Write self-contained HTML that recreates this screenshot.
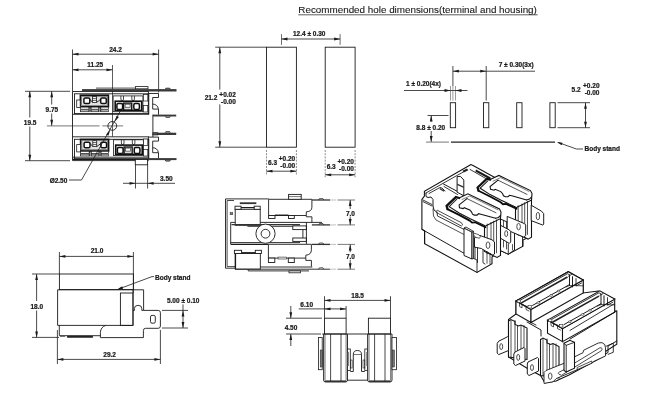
<!DOCTYPE html>
<html><head><meta charset="utf-8"><style>
html,body{margin:0;padding:0;background:#fff;}
svg{display:block;font-family:"Liberation Sans",sans-serif;}
#wrap{width:650px;height:401px;overflow:hidden;will-change:transform;}
</style></head><body>
<div id="wrap">
<svg width="650" height="401" viewBox="0 0 650 401">
<rect width="650" height="401" fill="#fff"/>
<line x1="72.5" y1="49.5" x2="72.5" y2="91.5" stroke="#2a2a2a" stroke-width="0.85" />
<line x1="158.6" y1="49.5" x2="158.6" y2="92.5" stroke="#2a2a2a" stroke-width="0.85" />
<line x1="72.5" y1="54.2" x2="158.6" y2="54.2" stroke="#2a2a2a" stroke-width="0.85" />
<polygon points="72.50,54.20 78.50,55.60 78.50,52.80" fill="#1a1a1a"/>
<polygon points="158.60,54.20 152.60,52.80 152.60,55.60" fill="#1a1a1a"/>
<text x="115.5" y="51.5" font-size="6.5" text-anchor="middle" font-weight="bold" fill="#1a1a1a" stroke="#1a1a1a" stroke-width="0.22">24.2</text>
<line x1="72.5" y1="69.8" x2="112.5" y2="69.8" stroke="#2a2a2a" stroke-width="0.85" />
<polygon points="72.50,69.80 78.50,71.20 78.50,68.40" fill="#1a1a1a"/>
<polygon points="112.50,69.80 106.50,68.40 106.50,71.20" fill="#1a1a1a"/>
<text x="95.3" y="66.9" font-size="6.5" text-anchor="middle" font-weight="bold" fill="#1a1a1a" stroke="#1a1a1a" stroke-width="0.22">11.25</text>
<line x1="112.5" y1="65" x2="112.5" y2="136.5" stroke="#333" stroke-width="0.8" />
<line x1="46.9" y1="125.9" x2="99.6" y2="125.9" stroke="#777" stroke-width="1.0" />
<line x1="102.3" y1="125.9" x2="123.1" y2="125.9" stroke="#777" stroke-width="1.0" />
<line x1="25" y1="91.3" x2="70" y2="91.3" stroke="#2a2a2a" stroke-width="0.85" />
<line x1="25" y1="160.7" x2="70" y2="160.7" stroke="#2a2a2a" stroke-width="0.85" />
<line x1="29.8" y1="91.3" x2="29.8" y2="117.5" stroke="#2a2a2a" stroke-width="0.85" />
<line x1="29.8" y1="126.5" x2="29.8" y2="160.7" stroke="#2a2a2a" stroke-width="0.85" />
<polygon points="29.80,91.30 28.40,97.30 31.20,97.30" fill="#1a1a1a"/>
<polygon points="29.80,160.70 31.20,154.70 28.40,154.70" fill="#1a1a1a"/>
<text x="30.1" y="125.2" font-size="6.5" text-anchor="middle" font-weight="bold" fill="#1a1a1a" stroke="#1a1a1a" stroke-width="0.22">19.5</text>
<line x1="51.7" y1="91.3" x2="51.7" y2="104.5" stroke="#2a2a2a" stroke-width="0.85" />
<line x1="51.7" y1="113.5" x2="51.7" y2="125.8" stroke="#2a2a2a" stroke-width="0.85" />
<polygon points="51.70,91.30 50.30,97.30 53.10,97.30" fill="#1a1a1a"/>
<polygon points="51.70,125.80 53.10,119.80 50.30,119.80" fill="#1a1a1a"/>
<text x="51.9" y="111.8" font-size="6.5" text-anchor="middle" font-weight="bold" fill="#1a1a1a" stroke="#1a1a1a" stroke-width="0.22">9.75</text>
<line x1="72.5" y1="91.5" x2="72.5" y2="160.6" stroke="#1a1a1a" stroke-width="0.9" />
<line x1="96" y1="88.1" x2="135.5" y2="88.1" stroke="#1a1a1a" stroke-width="0.8" />
<rect x="135.5" y="86.6" width="12.5" height="2.2" rx="0" stroke="#1a1a1a" stroke-width="0.8" fill="#fff"/>
<line x1="72.5" y1="91.5" x2="149" y2="91.5" stroke="#1a1a1a" stroke-width="0.9" />
<rect x="74.5" y="93.8" width="74.3" height="19.8" rx="0" stroke="#1a1a1a" stroke-width="0.9" fill="none"/>
<rect x="74.5" y="139.3" width="74.3" height="19.399999999999977" rx="0" stroke="#1a1a1a" stroke-width="0.9" fill="none"/>
<line x1="72.5" y1="157.2" x2="148.7" y2="157.2" stroke="#1a1a1a" stroke-width="0.9" />
<line x1="72.5" y1="159.4" x2="148.7" y2="159.4" stroke="#1a1a1a" stroke-width="1.2" />
<line x1="72.5" y1="160.6" x2="148.7" y2="160.6" stroke="#1a1a1a" stroke-width="0.9" />
<line x1="72.5" y1="114.3" x2="149" y2="114.3" stroke="#1a1a1a" stroke-width="0.9" />
<line x1="72.5" y1="136.8" x2="149" y2="136.8" stroke="#1a1a1a" stroke-width="0.9" />
<rect x="80.4" y="95.2" width="28" height="11.6" rx="0" stroke="#111" stroke-width="1.6" fill="#e2e2e2"/>
<rect x="81.7" y="96.5" width="25.4" height="9" rx="0" stroke="#555" stroke-width="0.6" fill="none"/>
<rect x="83.9" y="98.0" width="5.9" height="5.6" rx="1.4" stroke="#111" stroke-width="1.5" fill="#fff"/>
<rect x="100.7" y="98.0" width="5.6" height="5.6" rx="1.4" stroke="#111" stroke-width="1.5" fill="#fff"/>
<rect x="92.60000000000001" y="96.5" width="3.9" height="5.9" rx="0" stroke="#1a1a1a" stroke-width="0.8" fill="#fff"/>
<line x1="92.60000000000001" y1="98.4" x2="96.5" y2="98.4" stroke="#1a1a1a" stroke-width="0.7" />
<line x1="92.60000000000001" y1="100.4" x2="96.5" y2="100.4" stroke="#1a1a1a" stroke-width="0.7" />
<path d="M89.80000000000001,99.2 Q91.4,101.2 92.60000000000001,102.4" stroke="#111" stroke-width="0.9" fill="none" />
<path d="M100.7,99.2 Q98.4,101.2 96.5,102.4" stroke="#111" stroke-width="0.9" fill="none" />
<rect x="80.4" y="107.10000000000001" width="8.700000000000003" height="2.1" rx="0" stroke="#1a1a1a" stroke-width="0.7" fill="#fff"/>
<rect x="80.4" y="110.0" width="8.700000000000003" height="1.7" rx="0" stroke="#1a1a1a" stroke-width="0.7" fill="#fff"/>
<rect x="90.9" y="107.10000000000001" width="8.0" height="2.1" rx="0" stroke="#1a1a1a" stroke-width="0.7" fill="#fff"/>
<rect x="90.9" y="110.0" width="8.0" height="1.7" rx="0" stroke="#1a1a1a" stroke-width="0.7" fill="#fff"/>
<rect x="100.7" y="107.10000000000001" width="7.700000000000003" height="2.1" rx="0" stroke="#1a1a1a" stroke-width="0.7" fill="#fff"/>
<rect x="100.7" y="110.0" width="7.700000000000003" height="1.7" rx="0" stroke="#1a1a1a" stroke-width="0.7" fill="#fff"/>
<line x1="89.10000000000001" y1="106.8" x2="89.10000000000001" y2="111.80000000000001" stroke="#1a1a1a" stroke-width="0.7" />
<line x1="90.9" y1="106.8" x2="90.9" y2="111.80000000000001" stroke="#1a1a1a" stroke-width="0.7" />
<line x1="98.9" y1="106.8" x2="98.9" y2="111.80000000000001" stroke="#1a1a1a" stroke-width="0.7" />
<line x1="100.7" y1="106.8" x2="100.7" y2="111.80000000000001" stroke="#1a1a1a" stroke-width="0.7" />
<rect x="113.1" y="95.9" width="29.8" height="15.8" rx="0" stroke="#1a1a1a" stroke-width="0.8" fill="none"/>
<path d="M120.89999999999999,95.9 L120.89999999999999,99.10000000000001 A1.3,1.6 0 0 0 123.49999999999999,99.10000000000001 L123.49999999999999,95.9" stroke="#1a1a1a" stroke-width="0.8" fill="none" />
<line x1="122.19999999999999" y1="100.7" x2="122.19999999999999" y2="101.5" stroke="#1a1a1a" stroke-width="0.8" />
<path d="M131.79999999999998,95.9 L131.79999999999998,99.10000000000001 A1.3,1.6 0 0 0 134.4,99.10000000000001 L134.4,95.9" stroke="#1a1a1a" stroke-width="0.8" fill="none" />
<line x1="133.1" y1="100.7" x2="133.1" y2="101.5" stroke="#1a1a1a" stroke-width="0.8" />
<rect x="115.19999999999999" y="101.2" width="26.6" height="9.2" rx="0" stroke="#111" stroke-width="1.6" fill="#e2e2e2"/>
<rect x="116.89999999999999" y="103.5" width="5.7" height="6" rx="1.4" stroke="#111" stroke-width="1.5" fill="#fff"/>
<rect x="133.79999999999998" y="103.5" width="5.6" height="6" rx="1.4" stroke="#111" stroke-width="1.5" fill="#fff"/>
<rect x="123.6" y="103.10000000000001" width="8.1" height="6.9" rx="0" stroke="#111" stroke-width="1.3" fill="#ddd"/>
<rect x="125.1" y="104.2" width="5" height="3" rx="0" stroke="#1a1a1a" stroke-width="0.6" fill="#fff"/>
<rect x="80.6" y="139.4" width="28" height="11.6" rx="0" stroke="#111" stroke-width="1.6" fill="#e2e2e2"/>
<rect x="81.89999999999999" y="140.70000000000002" width="25.4" height="9" rx="0" stroke="#555" stroke-width="0.6" fill="none"/>
<rect x="84.1" y="142.20000000000002" width="5.9" height="5.6" rx="1.4" stroke="#111" stroke-width="1.5" fill="#fff"/>
<rect x="100.89999999999999" y="142.20000000000002" width="5.6" height="5.6" rx="1.4" stroke="#111" stroke-width="1.5" fill="#fff"/>
<rect x="92.8" y="140.70000000000002" width="3.9" height="5.9" rx="0" stroke="#1a1a1a" stroke-width="0.8" fill="#fff"/>
<line x1="92.8" y1="142.6" x2="96.69999999999999" y2="142.6" stroke="#1a1a1a" stroke-width="0.7" />
<line x1="92.8" y1="144.6" x2="96.69999999999999" y2="144.6" stroke="#1a1a1a" stroke-width="0.7" />
<path d="M90.0,143.4 Q91.6,145.4 92.8,146.6" stroke="#111" stroke-width="0.9" fill="none" />
<path d="M100.89999999999999,143.4 Q98.6,145.4 96.69999999999999,146.6" stroke="#111" stroke-width="0.9" fill="none" />
<rect x="80.6" y="151.3" width="8.700000000000003" height="2.1" rx="0" stroke="#1a1a1a" stroke-width="0.7" fill="#fff"/>
<rect x="80.6" y="154.20000000000002" width="8.700000000000003" height="1.7" rx="0" stroke="#1a1a1a" stroke-width="0.7" fill="#fff"/>
<rect x="91.1" y="151.3" width="8.0" height="2.1" rx="0" stroke="#1a1a1a" stroke-width="0.7" fill="#fff"/>
<rect x="91.1" y="154.20000000000002" width="8.0" height="1.7" rx="0" stroke="#1a1a1a" stroke-width="0.7" fill="#fff"/>
<rect x="100.89999999999999" y="151.3" width="7.700000000000003" height="2.1" rx="0" stroke="#1a1a1a" stroke-width="0.7" fill="#fff"/>
<rect x="100.89999999999999" y="154.20000000000002" width="7.700000000000003" height="1.7" rx="0" stroke="#1a1a1a" stroke-width="0.7" fill="#fff"/>
<line x1="89.3" y1="151.0" x2="89.3" y2="156.0" stroke="#1a1a1a" stroke-width="0.7" />
<line x1="91.1" y1="151.0" x2="91.1" y2="156.0" stroke="#1a1a1a" stroke-width="0.7" />
<line x1="99.1" y1="151.0" x2="99.1" y2="156.0" stroke="#1a1a1a" stroke-width="0.7" />
<line x1="100.89999999999999" y1="151.0" x2="100.89999999999999" y2="156.0" stroke="#1a1a1a" stroke-width="0.7" />
<rect x="113.6" y="139.8" width="29.8" height="15.8" rx="0" stroke="#1a1a1a" stroke-width="0.8" fill="none"/>
<path d="M121.39999999999999,139.8 L121.39999999999999,143.0 A1.3,1.6 0 0 0 123.99999999999999,143.0 L123.99999999999999,139.8" stroke="#1a1a1a" stroke-width="0.8" fill="none" />
<line x1="122.69999999999999" y1="144.60000000000002" x2="122.69999999999999" y2="145.4" stroke="#1a1a1a" stroke-width="0.8" />
<path d="M132.29999999999998,139.8 L132.29999999999998,143.0 A1.3,1.6 0 0 0 134.9,143.0 L134.9,139.8" stroke="#1a1a1a" stroke-width="0.8" fill="none" />
<line x1="133.6" y1="144.60000000000002" x2="133.6" y2="145.4" stroke="#1a1a1a" stroke-width="0.8" />
<rect x="115.69999999999999" y="145.10000000000002" width="26.6" height="9.2" rx="0" stroke="#111" stroke-width="1.6" fill="#e2e2e2"/>
<rect x="117.39999999999999" y="147.4" width="5.7" height="6" rx="1.4" stroke="#111" stroke-width="1.5" fill="#fff"/>
<rect x="134.29999999999998" y="147.4" width="5.6" height="6" rx="1.4" stroke="#111" stroke-width="1.5" fill="#fff"/>
<rect x="124.1" y="147.0" width="8.1" height="6.9" rx="0" stroke="#111" stroke-width="1.3" fill="#ddd"/>
<rect x="125.6" y="148.10000000000002" width="5" height="3" rx="0" stroke="#1a1a1a" stroke-width="0.6" fill="#fff"/>
<rect x="143.6" y="94.5" width="4.2" height="6.5" rx="0" stroke="#1a1a1a" stroke-width="0.7" fill="#fff"/>
<rect x="143.6" y="105.5" width="4.2" height="6.5" rx="0" stroke="#1a1a1a" stroke-width="0.7" fill="#fff"/>
<rect x="143.6" y="139" width="4.2" height="6.5" rx="0" stroke="#1a1a1a" stroke-width="0.7" fill="#fff"/>
<rect x="143.6" y="149.5" width="4.2" height="6.5" rx="0" stroke="#1a1a1a" stroke-width="0.7" fill="#fff"/>
<rect x="76.7" y="100" width="3.5" height="7.5" rx="0" stroke="#1a1a1a" stroke-width="0.8" fill="#fff"/>
<rect x="76.7" y="144.6" width="3.9" height="7.3" rx="0" stroke="#1a1a1a" stroke-width="0.8" fill="#fff"/>
<line x1="148.4" y1="91.5" x2="148.4" y2="114.4" stroke="#1a1a1a" stroke-width="0.9" />
<line x1="148.4" y1="137.1" x2="148.4" y2="158.6" stroke="#1a1a1a" stroke-width="0.9" />
<path d="M148.4,93.5 L158.5,93.5 L158.5,97.5 L152.7,97.5 L152.7,109.1 L158.5,109.1 L158.5,114.7" stroke="#1a1a1a" stroke-width="0.9" fill="none" />
<path d="M152.7,104.1 A5.6,5 0 0 1 158.3,108.9" stroke="#1a1a1a" stroke-width="0.9" fill="none" />
<path d="M148.4,137.1 L158.5,137.1 L158.5,141.1 L152.7,141.1 L152.7,152.7 L158.5,152.7 L158.5,158.29999999999998" stroke="#1a1a1a" stroke-width="0.9" fill="none" />
<path d="M152.7,147.7 A5.6,5 0 0 1 158.3,152.5" stroke="#1a1a1a" stroke-width="0.9" fill="none" />
<line x1="152.9" y1="114.6" x2="152.9" y2="137.1" stroke="#1a1a1a" stroke-width="0.9" />
<rect x="82" y="89.1" width="94.5" height="2.4" rx="0" stroke="#1a1a1a" stroke-width="0" fill="#3a3a3a"/>
<rect x="152.9" y="114.6" width="23.3" height="1.9" rx="0" stroke="#1a1a1a" stroke-width="0" fill="#3a3a3a"/>
<rect x="152.9" y="132.7" width="23.3" height="2.3" rx="0" stroke="#1a1a1a" stroke-width="0" fill="#3a3a3a"/>
<rect x="148" y="158.1" width="28.5" height="2.0" rx="0" stroke="#1a1a1a" stroke-width="0" fill="#3a3a3a"/>
<rect x="152.9" y="132.7" width="4.9" height="2.3" rx="0" stroke="#1a1a1a" stroke-width="0.6" fill="#555"/>
<path d="M165.5,89.1 L165.8,88.2 L169.8,88.2 L170.2,89.1" stroke="#1a1a1a" stroke-width="0.8" fill="#888" />
<path d="M165.2,116.5 L165.8,117.3 L169.8,117.3 L170.3,116.5" stroke="#1a1a1a" stroke-width="0.8" fill="#888" />
<path d="M165.2,132.7 L165.8,131.7 L169.8,131.7 L170.3,132.7" stroke="#1a1a1a" stroke-width="0.8" fill="#888" />
<path d="M165.2,160.1 L165.8,161.1 L169.8,161.1 L170.3,160.1" stroke="#1a1a1a" stroke-width="0.8" fill="#888" />
<rect x="135.3" y="159.4" width="12.3" height="5.4" rx="0" stroke="#1a1a1a" stroke-width="0.9" fill="#fff"/>
<line x1="135.5" y1="165" x2="135.5" y2="188.5" stroke="#2a2a2a" stroke-width="0.85" />
<line x1="147.6" y1="165" x2="147.6" y2="188.5" stroke="#2a2a2a" stroke-width="0.85" />
<line x1="123" y1="183.3" x2="175" y2="183.3" stroke="#2a2a2a" stroke-width="0.85" />
<polygon points="135.50,183.30 129.50,181.90 129.50,184.70" fill="#1a1a1a"/>
<polygon points="147.60,183.30 153.60,184.70 153.60,181.90" fill="#1a1a1a"/>
<text x="166.3" y="180.5" font-size="6.5" text-anchor="middle" font-weight="bold" fill="#1a1a1a" stroke="#1a1a1a" stroke-width="0.22">3.50</text>
<circle cx="112.3" cy="125.9" r="4.4" stroke="#1a1a1a" stroke-width="0.9" fill="none"/>
<line x1="121.5" y1="109" x2="81.5" y2="180" stroke="#1a1a1a" stroke-width="0.8" />
<line x1="69" y1="180" x2="81.5" y2="180" stroke="#1a1a1a" stroke-width="0.8" />
<polygon points="114.80,121.70 118.88,117.11 116.61,115.83" fill="#1a1a1a"/>
<polygon points="110.20,129.90 106.12,134.49 108.39,135.77" fill="#1a1a1a"/>
<text x="58.5" y="182.8" font-size="6.5" text-anchor="middle" font-weight="bold" fill="#1a1a1a" stroke="#1a1a1a" stroke-width="0.22">&#216;2.50</text>
<line x1="215.2" y1="47.2" x2="266.5" y2="47.2" stroke="#2a2a2a" stroke-width="0.85" />
<rect x="266.5" y="47.2" width="29.9" height="100" rx="0" stroke="#1a1a1a" stroke-width="0.9" fill="none"/>
<rect x="325.2" y="47.2" width="29.9" height="100" rx="0" stroke="#1a1a1a" stroke-width="0.9" fill="none"/>
<line x1="215.2" y1="147.2" x2="266.5" y2="147.2" stroke="#2a2a2a" stroke-width="0.85" />
<line x1="219.8" y1="47.2" x2="219.8" y2="89.6" stroke="#2a2a2a" stroke-width="0.85" />
<line x1="219.8" y1="104.4" x2="219.8" y2="147.2" stroke="#2a2a2a" stroke-width="0.85" />
<polygon points="219.80,47.20 218.40,53.20 221.20,53.20" fill="#1a1a1a"/>
<polygon points="219.80,147.20 221.20,141.20 218.40,141.20" fill="#1a1a1a"/>
<text x="217.3" y="100.2" font-size="6.5" text-anchor="end" font-weight="bold" fill="#1a1a1a" stroke="#1a1a1a" stroke-width="0.22">21.2</text>
<text x="235.8" y="96.6" font-size="6.5" text-anchor="end" font-weight="bold" fill="#1a1a1a" stroke="#1a1a1a" stroke-width="0.22">+0.02</text>
<text x="235.8" y="103.6" font-size="6.5" text-anchor="end" font-weight="bold" fill="#1a1a1a" stroke="#1a1a1a" stroke-width="0.22">-0.00</text>
<line x1="281.5" y1="34.1" x2="281.5" y2="44.9" stroke="#555" stroke-width="0.85" />
<line x1="340.1" y1="34.1" x2="340.1" y2="44.9" stroke="#555" stroke-width="0.85" />
<line x1="281.5" y1="39" x2="340.1" y2="39" stroke="#2a2a2a" stroke-width="0.85" />
<polygon points="281.50,39.00 287.50,40.40 287.50,37.60" fill="#1a1a1a"/>
<polygon points="340.10,39.00 334.10,37.60 334.10,40.40" fill="#1a1a1a"/>
<text x="309.2" y="36.4" font-size="6.5" text-anchor="middle" font-weight="bold" fill="#1a1a1a" stroke="#1a1a1a" stroke-width="0.22">12.4 &#177; 0.30</text>
<line x1="266.5" y1="150" x2="266.5" y2="175.0" stroke="#777" stroke-width="0.85" stroke-dasharray="2,1.2"/>
<line x1="296.4" y1="150" x2="296.4" y2="175.0" stroke="#777" stroke-width="0.85" stroke-dasharray="2,1.2"/>
<line x1="266.5" y1="171.2" x2="296.4" y2="171.2" stroke="#2a2a2a" stroke-width="0.85" />
<polygon points="266.50,171.20 272.50,172.60 272.50,169.80" fill="#1a1a1a"/>
<polygon points="296.40,171.20 290.40,169.80 290.40,172.60" fill="#1a1a1a"/>
<text x="268.0" y="165.1" font-size="6.5" text-anchor="start" font-weight="bold" fill="#1a1a1a" stroke="#1a1a1a" stroke-width="0.22">6.3</text>
<text x="295.2" y="160.8" font-size="6.5" text-anchor="end" font-weight="bold" fill="#1a1a1a" stroke="#1a1a1a" stroke-width="0.22">+0.20</text>
<text x="295.2" y="167.8" font-size="6.5" text-anchor="end" font-weight="bold" fill="#1a1a1a" stroke="#1a1a1a" stroke-width="0.22">-0.00</text>
<line x1="325.2" y1="150" x2="325.2" y2="177.16" stroke="#777" stroke-width="0.85" stroke-dasharray="2,1.2"/>
<line x1="355.1" y1="150" x2="355.1" y2="177.16" stroke="#777" stroke-width="0.85" stroke-dasharray="2,1.2"/>
<line x1="325.2" y1="174.8" x2="355.1" y2="174.8" stroke="#2a2a2a" stroke-width="0.85" />
<polygon points="325.20,174.80 331.20,176.20 331.20,173.40" fill="#1a1a1a"/>
<polygon points="355.10,174.80 349.10,173.40 349.10,176.20" fill="#1a1a1a"/>
<text x="326.7" y="168.7" font-size="6.5" text-anchor="start" font-weight="bold" fill="#1a1a1a" stroke="#1a1a1a" stroke-width="0.22">6.3</text>
<text x="353.90000000000003" y="164.4" font-size="6.5" text-anchor="end" font-weight="bold" fill="#1a1a1a" stroke="#1a1a1a" stroke-width="0.22">+0.20</text>
<text x="353.90000000000003" y="171.4" font-size="6.5" text-anchor="end" font-weight="bold" fill="#1a1a1a" stroke="#1a1a1a" stroke-width="0.22">-0.00</text>
<rect x="450.3" y="102.7" width="5.3" height="25" rx="0" stroke="#1a1a1a" stroke-width="0.9" fill="none"/>
<rect x="483.5" y="102.7" width="5.3" height="25" rx="0" stroke="#1a1a1a" stroke-width="0.9" fill="none"/>
<rect x="516.7" y="102.7" width="5.3" height="25" rx="0" stroke="#1a1a1a" stroke-width="0.9" fill="none"/>
<rect x="549.9" y="102.7" width="5.3" height="25" rx="0" stroke="#1a1a1a" stroke-width="0.9" fill="none"/>
<line x1="450.5" y1="86" x2="450.5" y2="100.5" stroke="#555" stroke-width="0.6" />
<line x1="452.9" y1="86" x2="452.9" y2="100.5" stroke="#555" stroke-width="0.6" />
<line x1="455.5" y1="86" x2="455.5" y2="100.5" stroke="#555" stroke-width="0.6" />
<line x1="404" y1="90.5" x2="467.5" y2="90.5" stroke="#2a2a2a" stroke-width="0.85" />
<polygon points="450.50,90.50 444.50,89.10 444.50,91.90" fill="#1a1a1a"/>
<polygon points="455.50,90.50 461.50,91.90 461.50,89.10" fill="#1a1a1a"/>
<text x="423.5" y="85.8" font-size="6.5" text-anchor="middle" font-weight="bold" fill="#1a1a1a" stroke="#1a1a1a" stroke-width="0.22">1 &#177; 0.20(4x)</text>
<line x1="452.9" y1="66" x2="452.9" y2="86" stroke="#2a2a2a" stroke-width="0.85" />
<line x1="486.2" y1="66" x2="486.2" y2="100.5" stroke="#2a2a2a" stroke-width="0.85" />
<line x1="452.9" y1="71.2" x2="535" y2="71.2" stroke="#2a2a2a" stroke-width="0.85" />
<polygon points="452.90,71.20 458.90,72.60 458.90,69.80" fill="#1a1a1a"/>
<polygon points="486.20,71.20 480.20,69.80 480.20,72.60" fill="#1a1a1a"/>
<text x="516.2" y="66.5" font-size="6.5" text-anchor="middle" font-weight="bold" fill="#1a1a1a" stroke="#1a1a1a" stroke-width="0.22">7 &#177; 0.30(3x)</text>
<line x1="427.5" y1="115.5" x2="448.5" y2="115.5" stroke="#2a2a2a" stroke-width="0.85" />
<line x1="431.2" y1="115.5" x2="431.2" y2="121.5" stroke="#2a2a2a" stroke-width="0.85" />
<line x1="431.2" y1="131" x2="431.2" y2="142" stroke="#2a2a2a" stroke-width="0.85" />
<polygon points="431.20,115.50 429.80,121.50 432.60,121.50" fill="#1a1a1a"/>
<polygon points="431.20,142.00 432.60,136.00 429.80,136.00" fill="#1a1a1a"/>
<text x="430.8" y="130.3" font-size="6.5" text-anchor="middle" font-weight="bold" fill="#1a1a1a" stroke="#1a1a1a" stroke-width="0.22">8.8 &#177; 0.20</text>
<line x1="426" y1="142.1" x2="449" y2="142.1" stroke="#777" stroke-width="1.0" />
<line x1="451" y1="142.1" x2="555" y2="142.1" stroke="#222" stroke-width="1.4" />
<polygon points="556.90,142.00 561.61,145.13 562.51,142.69" fill="#1a1a1a"/>
<polyline points="558,142.4 576.4,149 583,149" stroke="#1a1a1a" stroke-width="0.8" fill="none" stroke-linejoin="miter" />
<text x="584.5" y="151.3" font-size="6.5" text-anchor="start" font-weight="bold" fill="#1a1a1a" stroke="#1a1a1a" stroke-width="0.22">Body stand</text>
<line x1="557.5" y1="102.7" x2="590" y2="102.7" stroke="#2a2a2a" stroke-width="0.85" />
<line x1="557.5" y1="127.7" x2="590" y2="127.7" stroke="#2a2a2a" stroke-width="0.85" />
<line x1="585.5" y1="102.7" x2="585.5" y2="127.7" stroke="#2a2a2a" stroke-width="0.85" />
<polygon points="585.50,102.70 584.10,108.70 586.90,108.70" fill="#1a1a1a"/>
<polygon points="585.50,127.70 586.90,121.70 584.10,121.70" fill="#1a1a1a"/>
<text x="580.6" y="91.7" font-size="6.5" text-anchor="end" font-weight="bold" fill="#1a1a1a" stroke="#1a1a1a" stroke-width="0.22">5.2</text>
<text x="599.5" y="88.3" font-size="6.5" text-anchor="end" font-weight="bold" fill="#1a1a1a" stroke="#1a1a1a" stroke-width="0.22">+0.20</text>
<text x="599.5" y="95.3" font-size="6.5" text-anchor="end" font-weight="bold" fill="#1a1a1a" stroke="#1a1a1a" stroke-width="0.22">-0.00</text>
<text x="298.3" y="13.4" font-size="9.85" text-anchor="start" font-weight="normal" fill="#1a1a1a" stroke="#1a1a1a" stroke-width="0.12">Recommended hole dimensions(terminal and housing)</text>
<line x1="298.3" y1="14.8" x2="537.6" y2="14.8" stroke="#333" stroke-width="0.8" />
<polyline points="268.7,198.9 225.5,198.9 225.5,268.2 235.5,268.2" stroke="#1a1a1a" stroke-width="0.9" fill="none" stroke-linejoin="miter" />
<polyline points="234,200.5 227.1,200.5 227.1,266.6 235.5,266.6" stroke="#1a1a1a" stroke-width="0.8" fill="none" stroke-linejoin="miter" />
<rect x="235.2" y="209.3" width="25" height="16" rx="0" stroke="#1a1a1a" stroke-width="0.9" fill="#fff"/>
<rect x="235.0" y="206.2" width="6" height="3.1" rx="0" stroke="#1a1a1a" stroke-width="0.9" fill="#fff"/>
<rect x="254.2" y="206.2" width="6" height="3.1" rx="0" stroke="#1a1a1a" stroke-width="0.9" fill="#fff"/>
<line x1="241" y1="207.6" x2="254.2" y2="207.6" stroke="#1a1a1a" stroke-width="1.2" />
<rect x="239.8" y="202.3" width="16.5" height="1.8" rx="0" stroke="#1a1a1a" stroke-width="0" fill="#333"/>
<text x="229.8" y="215.0" font-size="3.2" text-anchor="start" font-weight="bold" fill="#1a1a1a" stroke="#1a1a1a" stroke-width="0.22">SI</text>
<path d="M268.6,199.3 L311.9,199.3 L311.9,207.2 Q311.9,211.6 306.3,211.8 L306.3,215.5 L268.6,215.5 Z" stroke="#1a1a1a" stroke-width="0.9" fill="#fff" />
<rect x="268.6" y="215.5" width="6.4" height="3" rx="0" stroke="#1a1a1a" stroke-width="0.9" fill="#fff"/>
<rect x="288.5" y="215.5" width="5.8" height="3" rx="0" stroke="#1a1a1a" stroke-width="0.9" fill="#fff"/>
<line x1="275" y1="215.2" x2="288.5" y2="215.2" stroke="#1a1a1a" stroke-width="1.3" />
<path d="M306.3,215.5 L306.3,216.8 L311.9,216.8 L311.9,222.3" stroke="#1a1a1a" stroke-width="0.9" fill="none" />
<rect x="288.6" y="194.4" width="12.6" height="4.9" rx="0" stroke="#1a1a1a" stroke-width="0.9" fill="#fff"/>
<line x1="288.6" y1="196.6" x2="301.2" y2="196.6" stroke="#1a1a1a" stroke-width="0.6" />
<line x1="230.7" y1="222.4" x2="235.2" y2="222.4" stroke="#1a1a1a" stroke-width="0.9" />
<line x1="260.2" y1="222.4" x2="322" y2="222.4" stroke="#1a1a1a" stroke-width="0.9" />
<line x1="230.7" y1="222.4" x2="230.7" y2="244.3" stroke="#1a1a1a" stroke-width="0.9" />
<line x1="247.4" y1="226.3" x2="300" y2="226.3" stroke="#1a1a1a" stroke-width="0.9" />
<line x1="231.5" y1="224.6" x2="300" y2="224.6" stroke="#333" stroke-width="1.2" />
<line x1="230.7" y1="244.3" x2="268.5" y2="244.3" stroke="#1a1a1a" stroke-width="1.3" />
<line x1="230.7" y1="242.6" x2="300" y2="242.6" stroke="#1a1a1a" stroke-width="0.9" />
<circle cx="265.5" cy="233.7" r="9.6" stroke="#1a1a1a" stroke-width="0.9" fill="#fff"/>
<circle cx="265.5" cy="233.7" r="4.4" stroke="#1a1a1a" stroke-width="0.9" fill="none"/>
<rect x="292.8" y="225.9" width="13.6" height="3.7" rx="0" stroke="#1a1a1a" stroke-width="0.9" fill="#fff"/>
<rect x="292.8" y="238.0" width="13.6" height="3.4" rx="0" stroke="#1a1a1a" stroke-width="0.9" fill="#fff"/>
<line x1="302.9" y1="229.6" x2="302.9" y2="238" stroke="#1a1a1a" stroke-width="0.9" />
<line x1="306.4" y1="222.4" x2="306.4" y2="244.3" stroke="#1a1a1a" stroke-width="0.9" />
<path d="M268.4,244.3 L311.4,244.3 L311.4,249.8 Q311.4,254.8 305.8,255.2 L305.8,258.1 L268.4,258.1 Z" stroke="#1a1a1a" stroke-width="0.9" fill="#fff" />
<rect x="268.4" y="258.1" width="6.4" height="4.4" rx="0" stroke="#1a1a1a" stroke-width="0.9" fill="#fff"/>
<rect x="288.3" y="258.1" width="6" height="4.4" rx="0" stroke="#1a1a1a" stroke-width="0.9" fill="#fff"/>
<rect x="278" y="257.1" width="8.5" height="1.9" rx="0" stroke="#1a1a1a" stroke-width="0.6" fill="#fff"/>
<path d="M305.8,258.1 L305.8,260.4 L311.4,260.4 L311.4,266.5" stroke="#1a1a1a" stroke-width="0.9" fill="none" />
<rect x="235.4" y="253.5" width="24.9" height="15.7" rx="0" stroke="#1a1a1a" stroke-width="0.9" fill="#fff"/>
<line x1="235.4" y1="253.5" x2="235.4" y2="269.2" stroke="#1a1a1a" stroke-width="1.4" />
<rect x="234.4" y="250.3" width="7.2" height="3.2" rx="0" stroke="#1a1a1a" stroke-width="0.9" fill="#fff"/>
<rect x="255.3" y="250.3" width="6.1" height="3.2" rx="0" stroke="#1a1a1a" stroke-width="0.9" fill="#fff"/>
<line x1="241.6" y1="252.8" x2="255.3" y2="252.8" stroke="#1a1a1a" stroke-width="1.4" />
<line x1="260.2" y1="267" x2="312.3" y2="267" stroke="#1a1a1a" stroke-width="0.9" />
<line x1="248.2" y1="269.2" x2="248.2" y2="270.9" stroke="#1a1a1a" stroke-width="0.9" />
<line x1="248.2" y1="270.9" x2="309" y2="270.9" stroke="#1a1a1a" stroke-width="0.9" />
<rect x="289" y="270.9" width="11.5" height="1.9" rx="0" stroke="#1a1a1a" stroke-width="0.8" fill="#fff"/>
<line x1="311.9" y1="200" x2="330" y2="200" stroke="#333" stroke-width="1.3" />
<path d="M318.6,200 L319.4,198.6 L323,198.6 L323.8,200" stroke="#1a1a1a" stroke-width="0.7" fill="none" />
<line x1="330" y1="200" x2="336" y2="200" stroke="#999" stroke-width="0.6" />
<line x1="337.5" y1="200" x2="355" y2="200" stroke="#444" stroke-width="0.7" />
<line x1="311.9" y1="224.9" x2="330" y2="224.9" stroke="#333" stroke-width="1.3" />
<path d="M318.6,224.9 L319.4,223.5 L323,223.5 L323.8,224.9" stroke="#1a1a1a" stroke-width="0.7" fill="none" />
<line x1="330" y1="224.9" x2="336" y2="224.9" stroke="#999" stroke-width="0.6" />
<line x1="337.5" y1="224.9" x2="355" y2="224.9" stroke="#444" stroke-width="0.7" />
<line x1="311.9" y1="244.4" x2="330" y2="244.4" stroke="#333" stroke-width="1.3" />
<path d="M318.6,244.4 L319.4,243.0 L323,243.0 L323.8,244.4" stroke="#1a1a1a" stroke-width="0.7" fill="none" />
<line x1="330" y1="244.4" x2="336" y2="244.4" stroke="#999" stroke-width="0.6" />
<line x1="337.5" y1="244.4" x2="355" y2="244.4" stroke="#444" stroke-width="0.7" />
<line x1="235.5" y1="269.2" x2="330" y2="269.2" stroke="#333" stroke-width="1.0" />
<path d="M318.6,269.2 L319.4,267.8 L323,267.8 L323.8,269.2" stroke="#1a1a1a" stroke-width="0.7" fill="none" />
<line x1="330" y1="269.2" x2="336" y2="269.2" stroke="#999" stroke-width="0.6" />
<line x1="337.5" y1="269.2" x2="355" y2="269.2" stroke="#444" stroke-width="0.7" />
<line x1="350.2" y1="200" x2="350.2" y2="224.9" stroke="#2a2a2a" stroke-width="0.85" />
<polygon points="350.20,200.00 348.80,206.00 351.60,206.00" fill="#1a1a1a"/>
<polygon points="350.20,224.90 351.60,218.90 348.80,218.90" fill="#1a1a1a"/>
<line x1="350.2" y1="244.4" x2="350.2" y2="269.3" stroke="#2a2a2a" stroke-width="0.85" />
<polygon points="350.20,244.40 348.80,250.40 351.60,250.40" fill="#1a1a1a"/>
<polygon points="350.20,269.30 351.60,263.30 348.80,263.30" fill="#1a1a1a"/>
<rect x="345" y="209" width="11" height="7.5" fill="#fff"/>
<rect x="345" y="252.2" width="11" height="7.5" fill="#fff"/>
<text x="350.4" y="215.9" font-size="6.5" text-anchor="middle" font-weight="bold" fill="#1a1a1a" stroke="#1a1a1a" stroke-width="0.22">7.0</text>
<text x="350.4" y="259.1" font-size="6.5" text-anchor="middle" font-weight="bold" fill="#1a1a1a" stroke="#1a1a1a" stroke-width="0.22">7.0</text>
<line x1="59.4" y1="252" x2="59.4" y2="274" stroke="#2a2a2a" stroke-width="0.85" />
<line x1="133.4" y1="252" x2="133.4" y2="293" stroke="#2a2a2a" stroke-width="0.85" />
<line x1="59.4" y1="256.4" x2="133.4" y2="256.4" stroke="#2a2a2a" stroke-width="0.85" />
<polygon points="59.40,256.40 65.40,257.80 65.40,255.00" fill="#1a1a1a"/>
<polygon points="133.40,256.40 127.40,255.00 127.40,257.80" fill="#1a1a1a"/>
<text x="97" y="252.8" font-size="6.5" text-anchor="middle" font-weight="bold" fill="#1a1a1a" stroke="#1a1a1a" stroke-width="0.22">21.0</text>
<line x1="32" y1="274" x2="59.4" y2="274" stroke="#2a2a2a" stroke-width="0.85" />
<line x1="32" y1="337.4" x2="59" y2="337.4" stroke="#2a2a2a" stroke-width="0.85" />
<line x1="36.6" y1="274" x2="36.6" y2="301" stroke="#2a2a2a" stroke-width="0.85" />
<line x1="36.6" y1="310.5" x2="36.6" y2="337.4" stroke="#2a2a2a" stroke-width="0.85" />
<polygon points="36.60,274.00 35.20,280.00 38.00,280.00" fill="#1a1a1a"/>
<polygon points="36.60,337.40 38.00,331.40 35.20,331.40" fill="#1a1a1a"/>
<text x="36.8" y="308.9" font-size="6.5" text-anchor="middle" font-weight="bold" fill="#1a1a1a" stroke="#1a1a1a" stroke-width="0.22">18.0</text>
<line x1="57.4" y1="330" x2="57.4" y2="364" stroke="#2a2a2a" stroke-width="0.85" />
<line x1="160.4" y1="330" x2="160.4" y2="364" stroke="#2a2a2a" stroke-width="0.85" />
<line x1="57.4" y1="359.4" x2="160.4" y2="359.4" stroke="#2a2a2a" stroke-width="0.85" />
<polygon points="57.40,359.40 63.40,360.80 63.40,358.00" fill="#1a1a1a"/>
<polygon points="160.40,359.40 154.40,358.00 154.40,360.80" fill="#1a1a1a"/>
<text x="109.6" y="356.5" font-size="6.5" text-anchor="middle" font-weight="bold" fill="#1a1a1a" stroke="#1a1a1a" stroke-width="0.22">29.2</text>
<line x1="162" y1="310.4" x2="188" y2="310.4" stroke="#2a2a2a" stroke-width="0.85" />
<line x1="162" y1="328" x2="188" y2="328" stroke="#2a2a2a" stroke-width="0.85" />
<line x1="183" y1="304.4" x2="183" y2="310.4" stroke="#2a2a2a" stroke-width="0.85" />
<line x1="183" y1="310.4" x2="183" y2="328" stroke="#2a2a2a" stroke-width="0.85" />
<polygon points="183.00,310.40 181.60,316.40 184.40,316.40" fill="#1a1a1a"/>
<polygon points="183.00,328.00 184.40,322.00 181.60,322.00" fill="#1a1a1a"/>
<text x="183.2" y="302.9" font-size="6.5" text-anchor="middle" font-weight="bold" fill="#1a1a1a" stroke="#1a1a1a" stroke-width="0.22">5.00 &#177; 0.10</text>
<rect x="59.4" y="274" width="74" height="15.6" rx="0" stroke="#1a1a1a" stroke-width="0.9" fill="none"/>
<path d="M57.6,325.4 L57.6,289.8 L143.6,289.8 L143.6,310.4" stroke="#1a1a1a" stroke-width="0.9" fill="none" />
<line x1="57.6" y1="325.4" x2="132.7" y2="325.4" stroke="#1a1a1a" stroke-width="0.9" />
<rect x="120.4" y="293" width="12.6" height="32.4" rx="0" stroke="#1a1a1a" stroke-width="0.9" fill="none"/>
<line x1="133" y1="289.8" x2="133" y2="325.4" stroke="#1a1a1a" stroke-width="0.9" />
<path d="M134.4,310.4 L134.4,308.6 A3.6,3.2 0 0 1 141.8,308.6 L141.8,310.4" stroke="#1a1a1a" stroke-width="0.9" fill="none" />
<line x1="133" y1="310.4" x2="134.4" y2="310.4" stroke="#1a1a1a" stroke-width="0.9" />
<line x1="141.8" y1="310.4" x2="143.6" y2="310.4" stroke="#1a1a1a" stroke-width="0.9" />
<path d="M143.6,310.4 L158.2,310.4 Q160.4,310.4 160.4,312.6 L160.4,326 Q160.4,328.3 158.2,328.3 L145.6,328.3 Q143.4,328.3 143.4,330.5 L143.4,337.6 L100.4,337.6 L100.4,332.5 Q100.6,327.2 105.6,325.4" stroke="#1a1a1a" stroke-width="0.9" fill="none" />
<rect x="150.5" y="315.4" width="4.8" height="7.8" rx="1.5" fill="none" stroke="#1a1a1a" stroke-width="0.9"/>
<path d="M59.3,325.4 L59.3,335.7 L100.4,335.7" stroke="#1a1a1a" stroke-width="0.9" fill="none" />
<line x1="67.1" y1="336.8" x2="92.9" y2="336.8" stroke="#222" stroke-width="1.9" />
<line x1="60" y1="336.2" x2="65" y2="336.2" stroke="#444" stroke-width="1.0" />
<polygon points="117.00,289.60 123.07,288.71 122.16,286.28" fill="#1a1a1a"/>
<polyline points="119,288.9 152,276.6 154,276.6" stroke="#1a1a1a" stroke-width="0.8" fill="none" stroke-linejoin="miter" />
<text x="155" y="279.5" font-size="6.5" text-anchor="start" font-weight="bold" fill="#1a1a1a" stroke="#1a1a1a" stroke-width="0.22">Body stand</text>
<line x1="324.5" y1="296.2" x2="324.5" y2="318" stroke="#2a2a2a" stroke-width="0.85" />
<line x1="390.5" y1="296.2" x2="390.5" y2="318" stroke="#2a2a2a" stroke-width="0.85" />
<line x1="324.5" y1="300.4" x2="390.5" y2="300.4" stroke="#2a2a2a" stroke-width="0.85" />
<polygon points="324.50,300.40 330.50,301.80 330.50,299.00" fill="#1a1a1a"/>
<polygon points="390.50,300.40 384.50,299.00 384.50,301.80" fill="#1a1a1a"/>
<text x="357.6" y="298.1" font-size="6.5" text-anchor="middle" font-weight="bold" fill="#1a1a1a" stroke="#1a1a1a" stroke-width="0.22">18.5</text>
<line x1="298.7" y1="308.9" x2="324.5" y2="308.9" stroke="#2a2a2a" stroke-width="0.85" />
<line x1="346.1" y1="306" x2="346.1" y2="318" stroke="#2a2a2a" stroke-width="0.85" />
<line x1="324.5" y1="308.9" x2="346.1" y2="308.9" stroke="#2a2a2a" stroke-width="0.85" />
<polygon points="324.50,308.90 330.50,310.30 330.50,307.50" fill="#1a1a1a"/>
<polygon points="346.10,308.90 340.10,307.50 340.10,310.30" fill="#1a1a1a"/>
<text x="306.7" y="306.7" font-size="6.5" text-anchor="middle" font-weight="bold" fill="#1a1a1a" stroke="#1a1a1a" stroke-width="0.22">6.10</text>
<line x1="286" y1="318.2" x2="322" y2="318.2" stroke="#2a2a2a" stroke-width="0.85" />
<line x1="286" y1="334" x2="321" y2="334" stroke="#2a2a2a" stroke-width="0.85" />
<line x1="290.8" y1="306" x2="290.8" y2="318.2" stroke="#2a2a2a" stroke-width="0.85" />
<line x1="290.8" y1="334" x2="290.8" y2="346" stroke="#2a2a2a" stroke-width="0.85" />
<polygon points="290.80,318.20 292.20,312.20 289.40,312.20" fill="#1a1a1a"/>
<polygon points="290.80,334.00 289.40,340.00 292.20,340.00" fill="#1a1a1a"/>
<text x="291" y="329.7" font-size="6.5" text-anchor="middle" font-weight="bold" fill="#1a1a1a" stroke="#1a1a1a" stroke-width="0.22">4.50</text>
<rect x="324.5" y="318.2" width="21.6" height="15.8" rx="0" stroke="#1a1a1a" stroke-width="0.9" fill="none"/>
<rect x="368.4" y="318.2" width="22.1" height="15.8" rx="0" stroke="#1a1a1a" stroke-width="0.9" fill="none"/>
<line x1="322.2" y1="334" x2="392" y2="334" stroke="#1a1a1a" stroke-width="0.9" />
<path d="M323.6,334 L323.6,380 Q323.6,382 325.6,382 L345.5,382 Q347.5,382 347.5,380 L347.5,334" stroke="#1a1a1a" stroke-width="0.9" fill="none" />
<line x1="324.8" y1="381.2" x2="346.3" y2="381.2" stroke="#333" stroke-width="1.6" />
<line x1="330.6" y1="334" x2="330.6" y2="381" stroke="#1a1a1a" stroke-width="0.8" />
<line x1="341" y1="334" x2="341" y2="381" stroke="#1a1a1a" stroke-width="0.8" />
<line x1="325.0" y1="334" x2="325.0" y2="380" stroke="#1a1a1a" stroke-width="0.6" />
<line x1="346.1" y1="334" x2="346.1" y2="380" stroke="#1a1a1a" stroke-width="0.6" />
<path d="M367.6,334 L367.6,380 Q367.6,382 369.6,382 L390,382 Q392,382 392,380 L392,334" stroke="#1a1a1a" stroke-width="0.9" fill="none" />
<line x1="368.8" y1="381.2" x2="390.8" y2="381.2" stroke="#333" stroke-width="1.6" />
<line x1="374.6" y1="334" x2="374.6" y2="381" stroke="#1a1a1a" stroke-width="0.8" />
<line x1="385" y1="334" x2="385" y2="381" stroke="#1a1a1a" stroke-width="0.8" />
<line x1="369.0" y1="334" x2="369.0" y2="380" stroke="#1a1a1a" stroke-width="0.6" />
<line x1="390.6" y1="334" x2="390.6" y2="380" stroke="#1a1a1a" stroke-width="0.6" />
<line x1="347.5" y1="380.2" x2="367.6" y2="380.2" stroke="#1a1a1a" stroke-width="0.9" />
<rect x="318.4" y="337.5" width="3.8" height="32.2" rx="0" stroke="#1a1a1a" stroke-width="0.8" fill="#fff"/>
<rect x="320.2" y="350" width="2.2" height="17" rx="0" stroke="#1a1a1a" stroke-width="0.5" fill="#777"/>
<rect x="392" y="337.5" width="4.4" height="32.2" rx="0" stroke="#1a1a1a" stroke-width="0.8" fill="#fff"/>
<rect x="392.4" y="350" width="2" height="17" rx="0" stroke="#1a1a1a" stroke-width="0.5" fill="#777"/>
<rect x="347.5" y="349" width="2.8" height="21.6" rx="0" stroke="#1a1a1a" stroke-width="0.8" fill="#fff"/>
<rect x="364.8" y="349" width="2.8" height="21.6" rx="0" stroke="#1a1a1a" stroke-width="0.8" fill="#fff"/>
<rect x="347.5" y="352" width="1.2" height="14" rx="0" stroke="#1a1a1a" stroke-width="0" fill="#555"/>
<rect x="366.4" y="352" width="1.2" height="14" rx="0" stroke="#1a1a1a" stroke-width="0" fill="#555"/>
<rect x="350.3" y="360" width="1.8" height="8" rx="0" stroke="#1a1a1a" stroke-width="0.6" fill="none"/>
<rect x="363" y="360" width="1.8" height="8" rx="0" stroke="#1a1a1a" stroke-width="0.6" fill="none"/>
<path d="M350.3,371.5 L353.3,371.5 L353.3,354.5 A4.1,4 0 0 1 361.5,354.5 L361.5,371.5 L364.8,371.5" stroke="#1a1a1a" stroke-width="0.9" fill="none" />
<line x1="353.3" y1="354.5" x2="361.5" y2="354.5" stroke="#1a1a1a" stroke-width="0.6" />
<polygon points="471,164.5 424.4,191.3 424.4,196 421.9,199.5 421.9,229.3 424.6,231 424.6,243.6 477,272.4 492,263.8 492,257 500.5,250.6 508.3,254.2 523,246.2 523,240 531,236 531,199 515,188.5 473.5,165.8" stroke="#111" stroke-width="1.08" fill="#fff" stroke-linejoin="miter" stroke-linejoin="round"/>
<polyline points="426,193 441,184.5 465,171" stroke="#111" stroke-width="0.84" fill="none" stroke-linejoin="miter" stroke-linejoin="round" stroke-linecap="round"/>
<polyline points="470,169.4 487.4,179.4" stroke="#111" stroke-width="0.84" fill="none" stroke-linejoin="miter" stroke-linejoin="round" stroke-linecap="round"/>
<polygon points="462.5,170.8 467,168.4 468.3,170.2 463.8,172.6" fill="#222"/>
<polygon points="476,169.6 490.8,177.6 490,179.6 475.3,171.6" fill="#1a1a1a"/>
<polyline points="426,193 426,196.5 428,197.5 431,197 433,199.5 433,206 434,210 437,212.2" stroke="#111" stroke-width="0.96" fill="none" stroke-linejoin="miter" stroke-linejoin="round" stroke-linecap="round"/>
<polyline points="429,193.5 440,187.5 442,188 445,191" stroke="#111" stroke-width="0.84" fill="none" stroke-linejoin="miter" stroke-linejoin="round" stroke-linecap="round"/>
<polygon points="440,188 444.5,190.6 443.8,191.8 439.5,189.2" fill="#333"/>
<polyline points="423,200 432,204.5" stroke="#111" stroke-width="0.84" fill="none" stroke-linejoin="miter" stroke-linejoin="round" stroke-linecap="round"/>
<polyline points="423,201.6 432,206" stroke="#111" stroke-width="0.84" fill="none" stroke-linejoin="miter" stroke-linejoin="round" stroke-linecap="round"/>
<polyline points="421.9,229.3 471.5,257.5" stroke="#111" stroke-width="0.96" fill="none" stroke-linejoin="miter" stroke-linejoin="round" stroke-linecap="round"/>
<polyline points="424.6,231 424.6,243.6" stroke="#111" stroke-width="0.96" fill="none" stroke-linejoin="miter" stroke-linejoin="round" stroke-linecap="round"/>
<polyline points="443.5,184 458.5,192 466.5,197.8" stroke="#111" stroke-width="0.96" fill="none" stroke-linejoin="miter" stroke-linejoin="round" stroke-linecap="round"/>
<polyline points="444,186.5 457.5,194.5" stroke="#111" stroke-width="0.84" fill="none" stroke-linejoin="miter" stroke-linejoin="round" stroke-linecap="round"/>
<polygon points="457.1,176.6 460.5,176.4 463.8,180 463.8,195.8 457.1,192.2" stroke="#111" stroke-width="0.96" fill="#fff" stroke-linejoin="miter" stroke-linejoin="round"/>
<polygon points="457.1,183.5 463.8,186.5 463.8,188 457.1,185" fill="#333"/>
<path d="M438.5,213.6 Q434.5,212 437.2,210.2 L461.5,222.8 Q463.8,225.2 461.3,226 Z" stroke="#1a1a1a" stroke-width="0.8" fill="#fff" />
<polyline points="437,212.2 437.5,216 463.8,229.3" stroke="#111" stroke-width="0.84" fill="none" stroke-linejoin="miter" stroke-linejoin="round" stroke-linecap="round"/>
<polyline points="433,209 433.5,216 436,220 464,234.5" stroke="#111" stroke-width="0.72" fill="none" stroke-linejoin="miter" stroke-linejoin="round" stroke-linecap="round"/>
<polygon points="477.6,187.5 486.9,178.7 490.1,179.6 498.9,175.4 530.5,190.6 532,193.6 531.5,200.1 516.5,208.79999999999998 478.5,190.7" stroke="#111" stroke-width="0.0" fill="#fff" stroke-linejoin="miter" stroke-linejoin="round"/>
<polygon points="515.5,208.1 531.5,200.1 531.5,237.1 528,239.1 515.5,233.1" stroke="#111" stroke-width="1.08" fill="#fff" stroke-linejoin="miter" stroke-linejoin="round"/>
<polyline points="518.2,205.685 518.2,235.32999999999998" stroke="#111" stroke-width="0.72" fill="none" stroke-linejoin="miter" stroke-linejoin="round" stroke-linecap="round"/>
<polyline points="522,203.975 522,234.95" stroke="#111" stroke-width="0.72" fill="none" stroke-linejoin="miter" stroke-linejoin="round" stroke-linecap="round"/>
<polyline points="524.7,202.76000000000002 524.7,234.68" stroke="#111" stroke-width="0.72" fill="none" stroke-linejoin="miter" stroke-linejoin="round" stroke-linecap="round"/>
<polyline points="527.5,201.5 527.5,234.4" stroke="#111" stroke-width="0.72" fill="none" stroke-linejoin="miter" stroke-linejoin="round" stroke-linecap="round"/>
<polyline points="490.1,179.6 498.9,175.4 530.5,190.6 532,193.6 531.5,200.1" stroke="#111" stroke-width="1.08" fill="none" stroke-linejoin="miter" stroke-linejoin="round" stroke-linecap="round"/>
<polyline points="493,181.1 500.7,177.6 529,191.4" stroke="#111" stroke-width="0.54" fill="none" stroke-linejoin="miter" stroke-linejoin="round" stroke-linecap="round"/>
<polyline points="526.6,199.9 529.5,199.1 531.5,197.1" stroke="#111" stroke-width="1.08" fill="none" stroke-linejoin="miter" stroke-linejoin="round" stroke-linecap="round"/>
<polyline points="490.1,179.6 486.9,178.7 477.6,187.5 478.5,190.7" stroke="#111" stroke-width="2.28" fill="none" stroke-linejoin="miter" stroke-linejoin="round" stroke-linecap="round"/>
<polyline points="487.8,180.79999999999998 480.2,188.2" stroke="#222" stroke-width="1.08" fill="none" stroke-linejoin="miter" stroke-linejoin="round" stroke-linecap="round"/>
<polyline points="478.5,190.7 490.5,196.7 500.7,202.2 503,204.2 506,203.9 516.5,208.79999999999998" stroke="#0a0a0a" stroke-width="1.7999999999999998" fill="none" stroke-linejoin="miter" stroke-linejoin="round" stroke-linecap="round"/>
<polyline points="480.2,188.2 490.1,194.6 500.7,200.0 515.5,207.1" stroke="#111" stroke-width="1.08" fill="none" stroke-linejoin="miter" stroke-linejoin="round" stroke-linecap="round"/>
<polyline points="498,180.2 490.1,186.5 490.5,189.29999999999998 494.2,190.2 495.2,189.29999999999998 500.7,191.6 502.5,193.5 503.5,195.79999999999998 505.3,196.7 508.1,196.7 509.5,195.29999999999998 511.8,195.79999999999998 526.6,199.9" stroke="#111" stroke-width="1.08" fill="none" stroke-linejoin="miter" stroke-linejoin="round" stroke-linecap="round"/>
<polyline points="498,180.2 527,194.4" stroke="#111" stroke-width="0.72" fill="none" stroke-linejoin="miter" stroke-linejoin="round" stroke-linecap="round"/>
<polygon points="531.2,205.2 541.5,211.2 543.7,213.6 543.7,224 542.8,225.1 531.2,220.6" stroke="#111" stroke-width="0.96" fill="#fff" stroke-linejoin="miter" stroke-linejoin="round"/>
<ellipse cx="537.9" cy="216.1" rx="1.7" ry="3.8" fill="#fff" stroke="#222" stroke-width="0.8" transform="rotate(0 537.9 216.1)"/>
<polygon points="499.5,218.5 514.5,225.5 514.5,250 508.3,254.2 500.5,250.6 499.5,250" stroke="#111" stroke-width="0.96" fill="#fff" stroke-linejoin="miter" stroke-linejoin="round"/>
<polyline points="503.5,220.5 503.5,247" stroke="#111" stroke-width="0.72" fill="none" stroke-linejoin="miter" stroke-linejoin="round" stroke-linecap="round"/>
<polyline points="506.5,222 506.5,249" stroke="#111" stroke-width="0.72" fill="none" stroke-linejoin="miter" stroke-linejoin="round" stroke-linecap="round"/>
<polygon points="507.2,216.4 524.3,223.5 525.7,225 525.7,235.6 523.5,237 510.5,231.5 507.2,230" stroke="#111" stroke-width="0.96" fill="#fff" stroke-linejoin="miter" stroke-linejoin="round"/>
<ellipse cx="518.6" cy="226.6" rx="1.8" ry="3.3" fill="#fff" stroke="#222" stroke-width="0.8" transform="rotate(0 518.6 226.6)"/>
<polyline points="522.5,237 522.5,246" stroke="#111" stroke-width="0.84" fill="none" stroke-linejoin="miter" stroke-linejoin="round" stroke-linecap="round"/>
<polygon points="497.5,223.7 509.3,229.9 510.7,231.5 510.7,242 509.3,243.4 500.8,238.4 497.5,236.5" stroke="#111" stroke-width="0.96" fill="#fff" stroke-linejoin="miter" stroke-linejoin="round"/>
<ellipse cx="506.2" cy="233.6" rx="1.5" ry="3" fill="#fff" stroke="#222" stroke-width="0.8" transform="rotate(0 506.2 233.6)"/>
<polyline points="500.5,238.4 500.5,250.6" stroke="#111" stroke-width="0.84" fill="none" stroke-linejoin="miter" stroke-linejoin="round" stroke-linecap="round"/>
<polyline points="508.3,244 508.3,254.2" stroke="#111" stroke-width="0.84" fill="none" stroke-linejoin="miter" stroke-linejoin="round" stroke-linecap="round"/>
<polyline points="512.5,244.5 512.5,250" stroke="#111" stroke-width="0.72" fill="none" stroke-linejoin="miter" stroke-linejoin="round" stroke-linecap="round"/>
<polygon points="446.6,205.9 455.9,197.1 459.1,198 467.9,193.8 499.5,209 501,212 500.5,218.5 485.5,227.2 447.5,209.1" stroke="#111" stroke-width="0.0" fill="#fff" stroke-linejoin="miter" stroke-linejoin="round"/>
<polygon points="484.5,226.5 500.5,218.5 500.5,255.5 497,257.5 484.5,251.5" stroke="#111" stroke-width="1.08" fill="#fff" stroke-linejoin="miter" stroke-linejoin="round"/>
<polyline points="487.2,224.085 487.2,253.73" stroke="#111" stroke-width="0.72" fill="none" stroke-linejoin="miter" stroke-linejoin="round" stroke-linecap="round"/>
<polyline points="491,222.375 491,253.35" stroke="#111" stroke-width="0.72" fill="none" stroke-linejoin="miter" stroke-linejoin="round" stroke-linecap="round"/>
<polyline points="493.7,221.16000000000003 493.7,253.08" stroke="#111" stroke-width="0.72" fill="none" stroke-linejoin="miter" stroke-linejoin="round" stroke-linecap="round"/>
<polyline points="496.5,219.9 496.5,252.8" stroke="#111" stroke-width="0.72" fill="none" stroke-linejoin="miter" stroke-linejoin="round" stroke-linecap="round"/>
<polyline points="459.1,198 467.9,193.8 499.5,209 501,212 500.5,218.5" stroke="#111" stroke-width="1.08" fill="none" stroke-linejoin="miter" stroke-linejoin="round" stroke-linecap="round"/>
<polyline points="462,199.5 469.7,196 498,209.8" stroke="#111" stroke-width="0.54" fill="none" stroke-linejoin="miter" stroke-linejoin="round" stroke-linecap="round"/>
<polyline points="495.6,218.3 498.5,217.5 500.5,215.5" stroke="#111" stroke-width="1.08" fill="none" stroke-linejoin="miter" stroke-linejoin="round" stroke-linecap="round"/>
<polyline points="459.1,198 455.9,197.1 446.6,205.9 447.5,209.1" stroke="#111" stroke-width="2.28" fill="none" stroke-linejoin="miter" stroke-linejoin="round" stroke-linecap="round"/>
<polyline points="456.8,199.2 449.2,206.6" stroke="#222" stroke-width="1.08" fill="none" stroke-linejoin="miter" stroke-linejoin="round" stroke-linecap="round"/>
<polyline points="447.5,209.1 459.5,215.1 469.7,220.6 472,222.6 475,222.3 485.5,227.2" stroke="#0a0a0a" stroke-width="1.7999999999999998" fill="none" stroke-linejoin="miter" stroke-linejoin="round" stroke-linecap="round"/>
<polyline points="449.2,206.6 459.1,213 469.7,218.4 484.5,225.5" stroke="#111" stroke-width="1.08" fill="none" stroke-linejoin="miter" stroke-linejoin="round" stroke-linecap="round"/>
<polyline points="467,198.6 459.1,204.9 459.5,207.7 463.2,208.6 464.2,207.7 469.7,210 471.5,211.9 472.5,214.2 474.3,215.1 477.1,215.1 478.5,213.7 480.8,214.2 495.6,218.3" stroke="#111" stroke-width="1.08" fill="none" stroke-linejoin="miter" stroke-linejoin="round" stroke-linecap="round"/>
<polyline points="467,198.6 496,212.8" stroke="#111" stroke-width="0.72" fill="none" stroke-linejoin="miter" stroke-linejoin="round" stroke-linecap="round"/>
<polygon points="464,228 472,232 472,259 464,255.5" stroke="#111" stroke-width="0.96" fill="#fff" stroke-linejoin="miter" stroke-linejoin="round"/>
<polygon points="472,232 473.6,231.4 473.6,258.4 472,259" stroke="#111" stroke-width="0.84" fill="#e6e6e6" stroke-linejoin="miter" stroke-linejoin="round"/>
<polygon points="464,228 466,227 473.6,231.4 472,232" stroke="#111" stroke-width="0.84" fill="#fff" stroke-linejoin="miter" stroke-linejoin="round"/>
<polygon points="474.5,237.5 480,235.5 492,239.8 494.5,242 494.5,254 493,255.2 482.5,249.3 481.5,248.5 474.5,247.2" stroke="#111" stroke-width="0.96" fill="#fff" stroke-linejoin="miter" stroke-linejoin="round"/>
<ellipse cx="488" cy="245.2" rx="1.9" ry="3.3" fill="#fff" stroke="#222" stroke-width="0.8" transform="rotate(0 488 245.2)"/>
<path d="M474.3,235.6 Q472.6,233.2 475,233.4 L479,234.9 Q481.6,236.8 479.4,238.3 L475,237 Z" stroke="#1a1a1a" stroke-width="0.7" fill="#fff" />
<polyline points="475,247.2 475,258.5" stroke="#111" stroke-width="0.84" fill="none" stroke-linejoin="miter" stroke-linejoin="round" stroke-linecap="round"/>
<polyline points="477.5,248 477.5,262.5" stroke="#111" stroke-width="0.84" fill="none" stroke-linejoin="miter" stroke-linejoin="round" stroke-linecap="round"/>
<polyline points="483,249.6 483,262.8 485,264" stroke="#111" stroke-width="0.84" fill="none" stroke-linejoin="miter" stroke-linejoin="round" stroke-linecap="round"/>
<polyline points="487,251.8 487,263.3" stroke="#111" stroke-width="0.72" fill="none" stroke-linejoin="miter" stroke-linejoin="round" stroke-linecap="round"/>
<polyline points="490,253.5 490,263.6" stroke="#111" stroke-width="0.72" fill="none" stroke-linejoin="miter" stroke-linejoin="round" stroke-linecap="round"/>
<polyline points="473.6,258.4 477,260 477,272.4" stroke="#111" stroke-width="0.84" fill="none" stroke-linejoin="miter" stroke-linejoin="round" stroke-linecap="round"/>
<polygon points="508.5,319.5 516,314 516,301 568.3,271.7 583.2,280 583.2,293 598.3,291 614,299.2 614,311 616.8,311 616.8,344.3 606,351 604.4,356 569,375 556,381 545,383 540.5,375.4 530,370 508.5,357" stroke="#111" stroke-width="1.08" fill="#fff" stroke-linejoin="miter" stroke-linejoin="round"/>
<polygon points="516,301 531,309.5 531,322.5 516,314" stroke="#111" stroke-width="1.08" fill="#fff" stroke-linejoin="miter" stroke-linejoin="round"/>
<polygon points="531,309.5 583.2,280 583.2,293 531,322.5" stroke="#111" stroke-width="1.08" fill="#fff" stroke-linejoin="miter" stroke-linejoin="round"/>
<polygon points="516,301 568.3,271.7 583.2,280 531,309.5" stroke="#111" stroke-width="1.08" fill="#fff" stroke-linejoin="miter" stroke-linejoin="round"/>
<polyline points="517.6,301.7 567.5,273.7 569.5,274.8" stroke="#111" stroke-width="0.84" fill="none" stroke-linejoin="miter" stroke-linejoin="round" stroke-linecap="round"/>
<polyline points="517.6,301.7 528.6,307.6" stroke="#111" stroke-width="0.84" fill="none" stroke-linejoin="miter" stroke-linejoin="round" stroke-linecap="round"/>
<polyline points="521.4,302.9 567,277.3" stroke="#222" stroke-width="1.56" fill="none" stroke-linejoin="miter" stroke-linejoin="round" stroke-linecap="round"/>
<polyline points="532.6,305.4 569.5,284.6" stroke="#111" stroke-width="0.96" fill="none" stroke-linejoin="miter" stroke-linejoin="round" stroke-linecap="round"/>
<ellipse cx="538.4" cy="302.6" rx="1.4" ry="0.9" fill="#fff" stroke="#222" stroke-width="0.6"/>
<ellipse cx="551.1" cy="295.4" rx="1.4" ry="0.9" fill="#fff" stroke="#222" stroke-width="0.6"/>
<ellipse cx="558.6" cy="291.1" rx="1.4" ry="0.9" fill="#fff" stroke="#222" stroke-width="0.6"/>
<rect x="517.2" y="300" width="3.2" height="2.6" fill="#fff" stroke="#222" stroke-width="0.6"/>
<rect x="528" y="305.4" width="3.4" height="2.6" fill="#fff" stroke="#222" stroke-width="0.6"/>
<polyline points="569.5,275.1 569.5,285.5" stroke="#111" stroke-width="0.96" fill="none" stroke-linejoin="miter" stroke-linejoin="round" stroke-linecap="round"/>
<polyline points="572.5,276.7 572.5,287" stroke="#111" stroke-width="0.96" fill="none" stroke-linejoin="miter" stroke-linejoin="round" stroke-linecap="round"/>
<polyline points="576,278.6 576,286 581.5,283" stroke="#111" stroke-width="0.84" fill="none" stroke-linejoin="miter" stroke-linejoin="round" stroke-linecap="round"/>
<polyline points="566,287 569.5,285.5 583.2,285.8" stroke="#111" stroke-width="0.72" fill="none" stroke-linejoin="miter" stroke-linejoin="round" stroke-linecap="round"/>
<polyline points="568.5,276.2 571.5,274.5" stroke="#111" stroke-width="0.84" fill="none" stroke-linejoin="miter" stroke-linejoin="round" stroke-linecap="round"/>
<polyline points="519.5,303 519.5,306.5 522,307.8 522,305" stroke="#111" stroke-width="0.72" fill="none" stroke-linejoin="miter" stroke-linejoin="round" stroke-linecap="round"/>
<polyline points="526,306 526,309.5 529,311" stroke="#111" stroke-width="0.72" fill="none" stroke-linejoin="miter" stroke-linejoin="round" stroke-linecap="round"/>
<polyline points="531,322.5 536,325" stroke="#111" stroke-width="0.84" fill="none" stroke-linejoin="miter" stroke-linejoin="round" stroke-linecap="round"/>
<polyline points="527,322 541,330 541,336" stroke="#111" stroke-width="0.96" fill="none" stroke-linejoin="miter" stroke-linejoin="round" stroke-linecap="round"/>
<polygon points="508.5,321.0 511.0,319.5 515.0,321.5 515.0,324.5 518.5,326.0 521.0,325.0 527.0,328.0 527.0,359.5 508.5,357.0" stroke="#111" stroke-width="1.08" fill="#fff" stroke-linejoin="miter" stroke-linejoin="round"/>
<polyline points="511.0,320.5 511.0,357.3" stroke="#111" stroke-width="0.72" fill="none" stroke-linejoin="miter" stroke-linejoin="round" stroke-linecap="round"/>
<polyline points="515.0,320.5 515.0,357.78" stroke="#111" stroke-width="0.72" fill="none" stroke-linejoin="miter" stroke-linejoin="round" stroke-linecap="round"/>
<polyline points="517.5,325.5 517.5,358.08" stroke="#111" stroke-width="0.72" fill="none" stroke-linejoin="miter" stroke-linejoin="round" stroke-linecap="round"/>
<polyline points="521.0,325.5 521.0,358.5" stroke="#111" stroke-width="0.72" fill="none" stroke-linejoin="miter" stroke-linejoin="round" stroke-linecap="round"/>
<polyline points="524.0,325.5 524.0,358.86" stroke="#111" stroke-width="0.72" fill="none" stroke-linejoin="miter" stroke-linejoin="round" stroke-linecap="round"/>
<polygon points="540.5,339.5 543.0,338 547.0,340 547.0,343 550.5,344.5 553.0,343.5 559.0,346.5 559.0,378 540.5,375.5" stroke="#111" stroke-width="1.08" fill="#fff" stroke-linejoin="miter" stroke-linejoin="round"/>
<polyline points="543.0,339 543.0,375.8" stroke="#111" stroke-width="0.72" fill="none" stroke-linejoin="miter" stroke-linejoin="round" stroke-linecap="round"/>
<polyline points="547.0,339 547.0,376.28" stroke="#111" stroke-width="0.72" fill="none" stroke-linejoin="miter" stroke-linejoin="round" stroke-linecap="round"/>
<polyline points="549.5,344 549.5,376.58" stroke="#111" stroke-width="0.72" fill="none" stroke-linejoin="miter" stroke-linejoin="round" stroke-linecap="round"/>
<polyline points="553.0,344 553.0,377.0" stroke="#111" stroke-width="0.72" fill="none" stroke-linejoin="miter" stroke-linejoin="round" stroke-linecap="round"/>
<polyline points="556.0,344 556.0,377.36" stroke="#111" stroke-width="0.72" fill="none" stroke-linejoin="miter" stroke-linejoin="round" stroke-linecap="round"/>
<polygon points="547.5,320.1 562.5,328.6 562.5,341.6 547.5,333.1" stroke="#111" stroke-width="1.08" fill="#fff" stroke-linejoin="miter" stroke-linejoin="round"/>
<polygon points="562.5,328.6 614.7,299.1 614.7,312.1 562.5,341.6" stroke="#111" stroke-width="1.08" fill="#fff" stroke-linejoin="miter" stroke-linejoin="round"/>
<polygon points="547.5,320.1 599.8,290.8 614.7,299.1 562.5,328.6" stroke="#111" stroke-width="1.08" fill="#fff" stroke-linejoin="miter" stroke-linejoin="round"/>
<polyline points="549.1,320.8 599.0,292.8 601.0,293.90000000000003" stroke="#111" stroke-width="0.84" fill="none" stroke-linejoin="miter" stroke-linejoin="round" stroke-linecap="round"/>
<polyline points="549.1,320.8 560.1,326.70000000000005" stroke="#111" stroke-width="0.84" fill="none" stroke-linejoin="miter" stroke-linejoin="round" stroke-linecap="round"/>
<polyline points="552.9,322.0 598.5,296.40000000000003" stroke="#222" stroke-width="1.56" fill="none" stroke-linejoin="miter" stroke-linejoin="round" stroke-linecap="round"/>
<polyline points="564.1,324.5 601.0,303.70000000000005" stroke="#111" stroke-width="0.96" fill="none" stroke-linejoin="miter" stroke-linejoin="round" stroke-linecap="round"/>
<ellipse cx="569.9" cy="321.70000000000005" rx="1.4" ry="0.9" fill="#fff" stroke="#222" stroke-width="0.6"/>
<ellipse cx="582.6" cy="314.5" rx="1.4" ry="0.9" fill="#fff" stroke="#222" stroke-width="0.6"/>
<ellipse cx="590.1" cy="310.20000000000005" rx="1.4" ry="0.9" fill="#fff" stroke="#222" stroke-width="0.6"/>
<rect x="548.7" y="319.1" width="3.2" height="2.6" fill="#fff" stroke="#222" stroke-width="0.6"/>
<rect x="559.5" y="324.5" width="3.4" height="2.6" fill="#fff" stroke="#222" stroke-width="0.6"/>
<polyline points="601.0,294.20000000000005 601.0,304.6" stroke="#111" stroke-width="0.96" fill="none" stroke-linejoin="miter" stroke-linejoin="round" stroke-linecap="round"/>
<polyline points="604.0,295.8 604.0,306.1" stroke="#111" stroke-width="0.96" fill="none" stroke-linejoin="miter" stroke-linejoin="round" stroke-linecap="round"/>
<polyline points="607.5,297.70000000000005 607.5,305.1 613.0,302.1" stroke="#111" stroke-width="0.84" fill="none" stroke-linejoin="miter" stroke-linejoin="round" stroke-linecap="round"/>
<polyline points="597.5,306.1 601.0,304.6 614.7,304.90000000000003" stroke="#111" stroke-width="0.72" fill="none" stroke-linejoin="miter" stroke-linejoin="round" stroke-linecap="round"/>
<polyline points="600.0,295.3 603.0,293.6" stroke="#111" stroke-width="0.84" fill="none" stroke-linejoin="miter" stroke-linejoin="round" stroke-linecap="round"/>
<polyline points="551.0,322.1 551.0,325.6 553.5,326.90000000000003 553.5,324.1" stroke="#111" stroke-width="0.72" fill="none" stroke-linejoin="miter" stroke-linejoin="round" stroke-linecap="round"/>
<polyline points="557.5,325.1 557.5,328.6 560.5,330.1" stroke="#111" stroke-width="0.72" fill="none" stroke-linejoin="miter" stroke-linejoin="round" stroke-linecap="round"/>
<polyline points="570,339.1 616.2,311.2" stroke="#111" stroke-width="0.96" fill="none" stroke-linejoin="miter" stroke-linejoin="round" stroke-linecap="round"/>
<polyline points="570,330.4 613.6,304.2" stroke="#111" stroke-width="0.84" fill="none" stroke-linejoin="miter" stroke-linejoin="round" stroke-linecap="round"/>
<polygon points="498.7,341.2 507.7,336.7 508.5,337.5 508.5,350.5 498.7,354.6 497.2,353.1 497.2,343.4" stroke="#111" stroke-width="0.96" fill="#fff" stroke-linejoin="miter" stroke-linejoin="round"/>
<ellipse cx="501.2" cy="346.6" rx="1.5" ry="3" fill="#fff" stroke="#222" stroke-width="0.8" transform="rotate(0 501.2 346.6)"/>
<polygon points="515,352 524,347.5 525,348.5 525,361 515.5,365.5 513.8,364 513.8,354" stroke="#111" stroke-width="0.96" fill="#fff" stroke-linejoin="miter" stroke-linejoin="round"/>
<ellipse cx="518.2" cy="357.4" rx="1.5" ry="3" fill="#fff" stroke="#222" stroke-width="0.8" transform="rotate(0 518.2 357.4)"/>
<polygon points="528,362 537.5,357.5 538.5,358.5 538.5,371 529,375.5 527.3,374 527.3,364" stroke="#111" stroke-width="0.96" fill="#fff" stroke-linejoin="miter" stroke-linejoin="round"/>
<ellipse cx="532" cy="367.6" rx="1.5" ry="3" fill="#fff" stroke="#222" stroke-width="0.8" transform="rotate(0 532 367.6)"/>
<path d="M546,370.5 L564.3,363.2 L574.8,356.7 L583,352.7 L583.7,350.2 L598.3,343 Q602.3,341.4 604.8,344.6 Q605.8,347 605.6,352.7 L605.6,355.9 L593.4,361.6 L591.8,363.2 L577.2,369.7 L556.2,378.6 L553,381.8 L544,383.4 L544,372.5 Z" stroke="#1a1a1a" stroke-width="0.9" fill="#fff" />
<path d="M559,374.2 Q556.8,372.8 561,371.3 L599.9,347.8 Q603.2,347.6 601.5,350.6 L561.5,375.3 Z" stroke="#1a1a1a" stroke-width="0.8" fill="#fff" />
<polyline points="605.6,354 608,352.5 608,346 616.8,341" stroke="#111" stroke-width="0.96" fill="none" stroke-linejoin="miter" stroke-linejoin="round" stroke-linecap="round"/>
<polyline points="606.2,346.2 613.3,343.2 613.3,352.3 608.2,354.3" stroke="#111" stroke-width="0.84" fill="none" stroke-linejoin="miter" stroke-linejoin="round" stroke-linecap="round"/>
<ellipse cx="550.2" cy="376.2" rx="1.8" ry="3.2" fill="#fff" stroke="#222" stroke-width="0.8" transform="rotate(0 550.2 376.2)"/>
<polyline points="577.2,369.7 577.2,367.5 591.8,361 591.8,363.2" stroke="#111" stroke-width="0.72" fill="none" stroke-linejoin="miter" stroke-linejoin="round" stroke-linecap="round"/>
<polygon points="564,343.3 569.8,340.3 574.5,342.3 574.5,368.2 566.2,372 564,370.4" stroke="#111" stroke-width="1.08" fill="#fff" stroke-linejoin="miter" stroke-linejoin="round"/>
<polyline points="566.2,345.3 566.2,372" stroke="#111" stroke-width="0.84" fill="none" stroke-linejoin="miter" stroke-linejoin="round" stroke-linecap="round"/>
<polyline points="564,343.3 566.2,345.3 574.5,342.3" stroke="#111" stroke-width="0.84" fill="none" stroke-linejoin="miter" stroke-linejoin="round" stroke-linecap="round"/>
</svg>
</div>
</body></html>
